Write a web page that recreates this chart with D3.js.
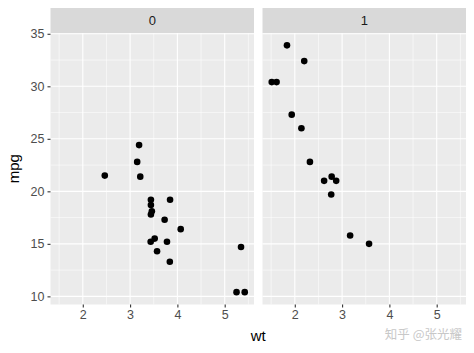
<!DOCTYPE html>
<html>
<head>
<meta charset="utf-8">
<script src="https://cdn.jsdelivr.net/npm/d3@7"></script>
<style>
  body { margin: 0; background: #fff; }
  svg { display: block; font-family: "Liberation Sans", Arial, sans-serif; }
</style>
</head>
<body>
<svg width="474" height="353"></svg>
<script>
// mtcars: wt vs mpg, faceted by am
const facets = ["0", "1"];
const wt0 = [3.215, 3.44, 3.46, 3.57, 3.19, 3.15, 3.44, 3.44, 4.07, 3.73, 3.78, 5.25, 5.424, 5.345, 2.465, 3.52, 3.435, 3.84, 3.845];
const mpg0 = [21.4, 18.7, 18.1, 14.3, 24.4, 22.8, 19.2, 17.8, 16.4, 17.3, 15.2, 10.4, 10.4, 14.7, 21.5, 15.5, 15.2, 13.3, 19.2];
const wt1 = [2.62, 2.875, 2.32, 2.2, 1.615, 1.835, 1.935, 2.14, 1.513, 3.17, 2.77, 3.57, 2.78];
const mpg1 = [21.0, 21.0, 22.8, 32.4, 30.4, 33.9, 27.3, 26.0, 30.4, 15.8, 19.7, 15.0, 21.4];
const xTicks = [2, 3, 4, 5];
const yTicks = [10, 15, 20, 25, 30, 35];

const series = [
  wt0.map((w, i) => ({wt: w, mpg: mpg0[i]})),
  wt1.map((w, i) => ({wt: w, mpg: mpg1[i]}))
];

let svg = d3.select("svg");
let panelLeft = [50.5, 262.5];
let panelW = 203.5;
let stripTop = 8, stripH = 25;
let panelTop = stripTop + stripH, panelBottom = 304.5;

let allWt = wt0.concat(wt1), allMpg = mpg0.concat(mpg1);
let xe = d3.extent(allWt), ye = d3.extent(allMpg);
let xp = (xe[1] - xe[0]) * 0.05, yp = (ye[1] - ye[0]) * 0.05;

let y = d3.scaleLinear().domain([ye[0] - yp, ye[1] + yp]).range([panelBottom, panelTop]);

facets.forEach(function (f, k) {
    let x = d3.scaleLinear().domain([xe[0] - xp, xe[1] + xp]).range([panelLeft[k], panelLeft[k] + panelW]);
    let g = svg.append("g");

    // strip
    g.append("rect").attr("x", panelLeft[k]).attr("y", stripTop)
        .attr("width", panelW).attr("height", stripH).attr("fill", "#d9d9d9");
    g.append("text").attr("x", panelLeft[k] + panelW / 2).attr("y", stripTop + stripH / 2)
        .attr("dy", "0.35em").attr("text-anchor", "middle")
        .attr("font-size", 13).attr("fill", "#1a1a1a").text(f);

    // panel
    g.append("rect").attr("x", panelLeft[k]).attr("y", panelTop)
        .attr("width", panelW).attr("height", panelBottom - panelTop).attr("fill", "#ebebeb");

    let minorX = xTicks.map(t => t - 0.5).concat([xTicks[xTicks.length - 1] + 0.5]);
    let minorY = yTicks.slice(1).map(t => t - 2.5);
    g.selectAll(".mx").data(minorX.filter(v => x(v) > panelLeft[k] && x(v) < panelLeft[k] + panelW))
        .enter().append("line")
        .attr("x1", d => x(d)).attr("x2", d => x(d)).attr("y1", panelTop).attr("y2", panelBottom)
        .attr("stroke", "#fff").attr("stroke-width", 0.55);
    g.selectAll(".my").data(minorY).enter().append("line")
        .attr("x1", panelLeft[k]).attr("x2", panelLeft[k] + panelW)
        .attr("y1", d => y(d)).attr("y2", d => y(d))
        .attr("stroke", "#fff").attr("stroke-width", 0.55);
    g.selectAll(".gx").data(xTicks).enter().append("line")
        .attr("x1", d => x(d)).attr("x2", d => x(d)).attr("y1", panelTop).attr("y2", panelBottom)
        .attr("stroke", "#fff").attr("stroke-width", 1.1);
    g.selectAll(".gy").data(yTicks).enter().append("line")
        .attr("x1", panelLeft[k]).attr("x2", panelLeft[k] + panelW)
        .attr("y1", d => y(d)).attr("y2", d => y(d))
        .attr("stroke", "#fff").attr("stroke-width", 1.1);

    // points
    g.selectAll(".pt").data(series[k]).enter().append("circle")
        .attr("cx", d => x(d.wt)).attr("cy", d => y(d.mpg))
        .attr("r", 3.3).attr("fill", "#000");

    // x axis
    let ax = g.append("g").attr("transform", "translate(0," + panelBottom + ")")
        .call(d3.axisBottom(x).tickValues(xTicks).tickSize(3).tickPadding(3).tickFormat(d3.format("d")));
    ax.select(".domain").remove();
    ax.selectAll("line").attr("stroke", "#333").attr("stroke-width", 1.1);
    ax.selectAll("text").attr("fill", "#4d4d4d").attr("font-size", 12.5)
        .attr("font-family", "Liberation Sans, Arial, sans-serif");

    if (k === 0) {
        let ay = g.append("g").attr("transform", "translate(" + panelLeft[0] + ",0)")
            .call(d3.axisLeft(y).tickValues(yTicks).tickSize(3).tickPadding(3));
        ay.select(".domain").remove();
        ay.selectAll("line").attr("stroke", "#333").attr("stroke-width", 1.1);
        ay.selectAll("text").attr("fill", "#4d4d4d").attr("font-size", 12.5)
            .attr("font-family", "Liberation Sans, Arial, sans-serif");
    }
});

// axis titles
svg.append("text").attr("x", (panelLeft[0] + panelLeft[1] + panelW) / 2).attr("y", 341)
    .attr("text-anchor", "middle").attr("font-size", 15).attr("fill", "#000").text("wt");
svg.append("text").attr("transform", "translate(19," + (panelTop + panelBottom) / 2 + ") rotate(-90)")
    .attr("text-anchor", "middle").attr("font-size", 15).attr("fill", "#000").text("mpg");

// watermark
svg.append("text").attr("x", 462).attr("y", 339).attr("text-anchor", "end")
    .attr("font-size", 12.5).attr("fill", "#c8c8c8")
    .attr("font-family", "Noto Sans CJK SC, sans-serif").text("知乎 @张光耀");
</script>
</body>
</html>
